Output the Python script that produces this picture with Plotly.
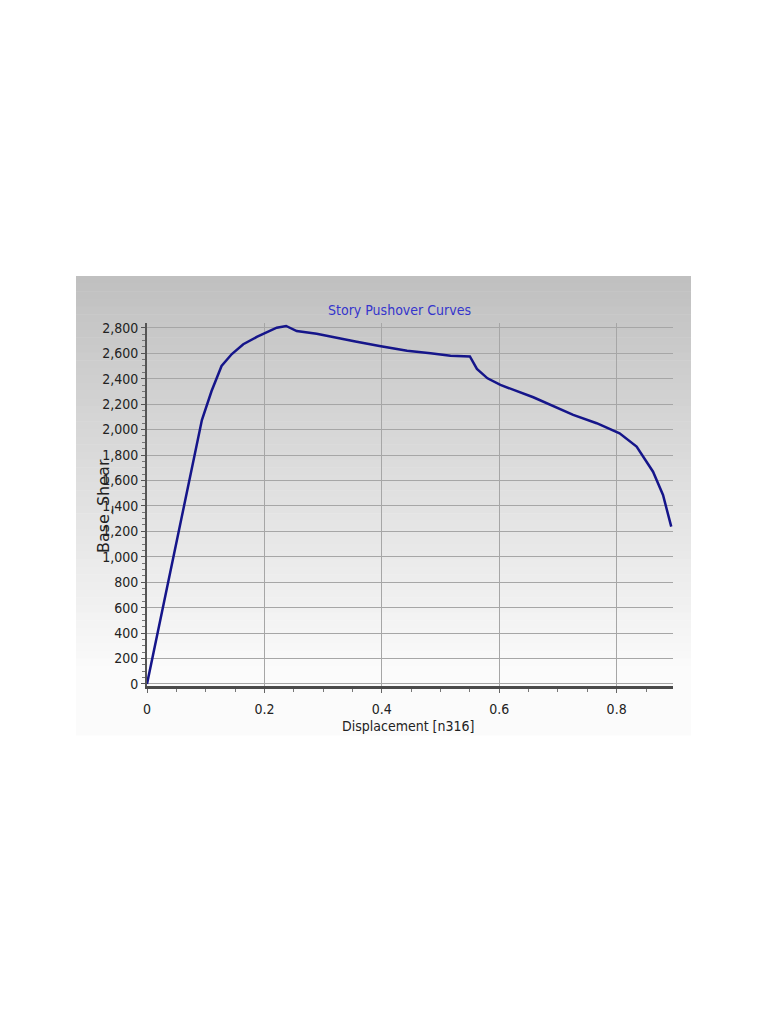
import plotly.graph_objects as go

# Data
displacement = [0, 0.0935, 0.110, 0.127, 0.1445, 0.164, 0.187, 0.221, 0.237, 0.255,
                0.289, 0.334, 0.355, 0.396, 0.443, 0.483, 0.517, 0.550, 0.562, 0.580,
                0.602, 0.658, 0.726, 0.766, 0.805, 0.834, 0.862, 0.879, 0.893]
base_shear = [0, 2075, 2303, 2500, 2594, 2671, 2728, 2801, 2815, 2775,
              2754, 2710, 2693, 2657, 2620, 2600, 2581, 2575, 2477, 2403,
              2351, 2254, 2115, 2050, 1971, 1866, 1669, 1486, 1237]

y_ticks = list(range(0, 2801, 200))
x_ticks = [0, 0.2, 0.4, 0.6, 0.8]

W, H = 768, 1024
OFF = 8  # page offset of the rendered figure
L, T = 147 - OFF, 323 - OFF
PW, PH = 526, 363
R, B = W - L - PW, H - T - PH

def px(x):
    return (x - OFF - L) / PW

def py(y):
    return (T + PH - (y - OFF)) / PH

COND = "DejaVu Sans Condensed, Liberation Sans Narrow, Arial Narrow, sans-serif"

fig = go.Figure()
fig.add_trace(go.Scatter(
    x=displacement, y=base_shear, mode="lines",
    line=dict(color="#15158a", width=2.5),
    hoverinfo="skip", showlegend=False,
))

# gradient panel background
shapes = []
top, bot = 276, 735
n = 60
for i in range(n):
    y0 = top + (bot - top) * i / n
    y1 = top + (bot - top) * (i + 1) / n
    t = i / (n - 1)
    v = int(round(192 + (251 - 192) * min(1.0, t * 1.15)))
    c = f"rgb({v},{v},{v})"
    shapes.append(dict(type="rect", xref="paper", yref="paper",
                       x0=px(76), x1=px(691), y0=py(y1 + 0.5), y1=py(y0),
                       fillcolor=c, line=dict(width=0), layer="below"))

fig.update_layout(
    width=W, height=H,
    margin=dict(l=L, r=R, t=T, b=B, pad=0),
    paper_bgcolor="white",
    plot_bgcolor="rgba(0,0,0,0)",
    shapes=shapes,
    showlegend=False,
    font=dict(family=COND, size=14, color="#2a2a2a"),
    xaxis=dict(
        range=[0, 0.896], tickvals=x_ticks, ticktext=["0", "0.2", "0.4", "0.6", "0.8"],
        showgrid=True, gridcolor="#a6a6a6", gridwidth=1,
        showline=True, linecolor="#4a4a4a", linewidth=3,
        ticks="outside", ticklen=4, tickcolor="#666", tickwidth=1,
        minor=dict(dtick=0.05, ticks="outside", ticklen=3, tickcolor="#777", showgrid=False),
        ticklabelstandoff=4, zeroline=False,
        tickfont=dict(family=COND, size=14, color="#222"),
    ),
    yaxis=dict(
        range=[-16, 2838], tickvals=y_ticks, tickformat=",d",
        showgrid=True, gridcolor="#a6a6a6", gridwidth=1,
        showline=True, linecolor="#555", linewidth=2,
        ticks="outside", ticklen=4, tickcolor="#555", tickwidth=1,
        minor=dict(dtick=50, ticks="outside", ticklen=3, tickcolor="#777", showgrid=False),
        zeroline=False,
        tickfont=dict(family=COND, size=14, color="#222"),
    ),
    annotations=[
        dict(text="Story Pushover Curves", xref="paper", yref="paper",
             x=px(399.5), y=py(310), showarrow=False, xanchor="center", yanchor="middle",
             font=dict(family=COND, size=14, color="#3535cc")),
        dict(text="Displacement [n316]", xref="paper", yref="paper",
             x=px(408), y=py(726), showarrow=False, xanchor="center", yanchor="middle",
             font=dict(family=COND, size=14, color="#222")),
        dict(text="Base_Shear", xref="paper", yref="paper", textangle=-90,
             x=px(104), y=py(506), showarrow=False, xanchor="center", yanchor="middle",
             font=dict(family="DejaVu Sans, sans-serif", size=16, color="#222")),
    ],
)

fig.write_html("out.html")
